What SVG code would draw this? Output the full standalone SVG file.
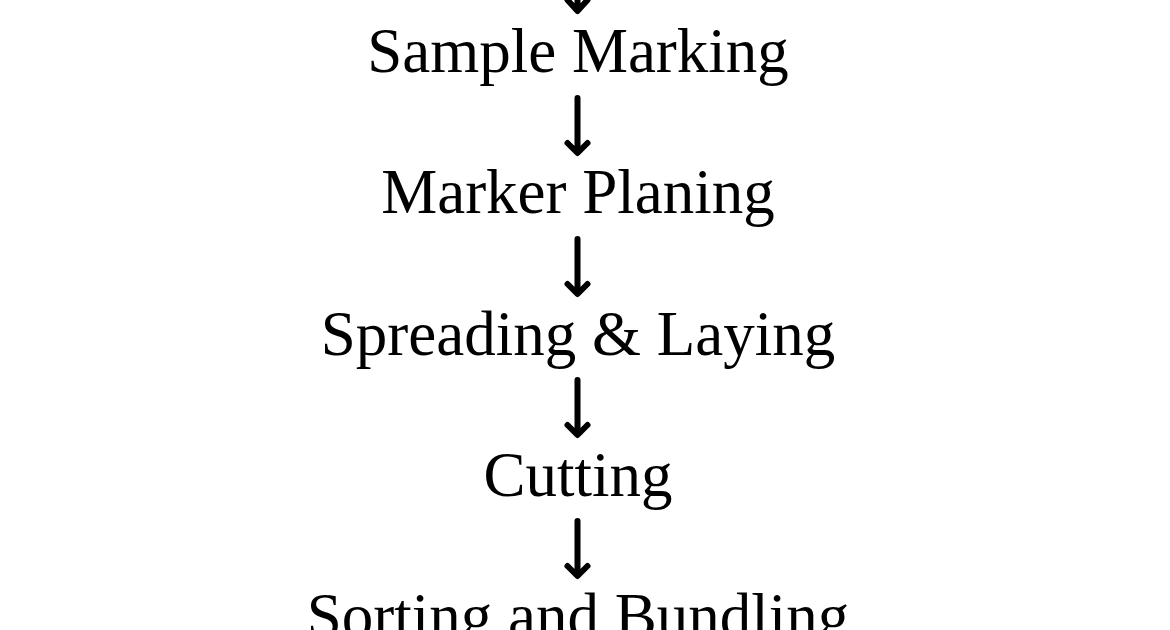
<svg xmlns="http://www.w3.org/2000/svg" width="1170" height="630" viewBox="0 0 1170 630">
<style>
.t{font-family:"Liberation Serif","Times New Roman",serif;font-size:63px;fill:#000;text-anchor:middle}
.a{fill:none;stroke:#000;stroke-width:6;stroke-linecap:round;stroke-linejoin:round}
</style>
<rect width="1170" height="630" fill="#fff"/>
<g id="connectors">
<path class="a" d="M577.5 -20V10M567.5 0L577.5 11L587.5 0"/>
<path class="a" d="M577.5 98V151M567.5 143L577.5 153L587.5 143"/>
<path class="a" d="M577.5 239V292M567.5 284L577.5 294L587.5 284"/>
<path class="a" d="M577.5 380V433M567.5 425L577.5 435L587.5 425"/>
<path class="a" d="M577.5 521V574M567.5 566L577.5 576L587.5 566"/>
</g>
<g id="sample-marking"><text class="t" x="578" y="72">Sample Marking</text></g>
<g id="marker-planing"><text class="t" x="578" y="213">Marker Planing</text></g>
<g id="spreading-laying"><text class="t" x="578" y="355">Spreading &amp; Laying</text></g>
<g id="cutting"><text class="t" x="578" y="496">Cutting</text></g>
<g id="sorting-bundling"><text class="t" x="578" y="637">Sorting and Bundling</text></g>
</svg>
